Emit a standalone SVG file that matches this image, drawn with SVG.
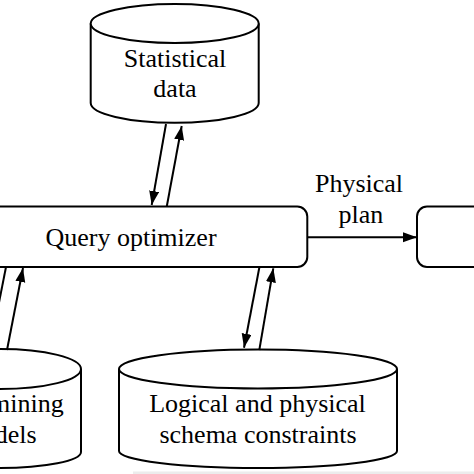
<svg xmlns="http://www.w3.org/2000/svg" width="474" height="474" viewBox="0 0 474 474">
  <style>
    .shape { fill: #ffffff; stroke: #000000; stroke-width: 2; }
    .lbl { font-family: "Liberation Serif", "Times New Roman", serif; font-size: 26px; fill: #000000; text-anchor: middle; }
    .conn { stroke: #000000; stroke-width: 2; fill: none; marker-end: url(#arrow); }
  </style>
  <defs>
    <marker id="arrow" markerUnits="userSpaceOnUse" markerWidth="15" markerHeight="11" refX="14" refY="5" orient="auto">
      <path d="M0,0 L14,5 L0,10 z" fill="#000000"/>
    </marker>
  </defs>
  <rect x="0" y="0" width="474" height="474" fill="#ffffff"/>
  <rect x="133" y="471.5" width="341" height="2.5" fill="#ececec"/>

  <g id="statistical-data">
    <path class="shape" d="M90.7,23.5 L90.7,103 A84,19.7 0 0 0 258.7,103 L258.7,23.5"/>
    <ellipse class="shape" cx="174.7" cy="23.5" rx="84" ry="19.5"/>
    <text class="lbl" x="175" y="67">Statistical</text>
    <text class="lbl" x="175" y="97">data</text>
  </g>

  <g id="query-optimizer">
    <rect class="shape" x="-30" y="206.5" width="337.3" height="60.5" rx="10" ry="10"/>
    <text class="lbl" x="131" y="246">Query optimizer</text>
  </g>

  <g id="executor">
    <rect class="shape" x="417" y="206.5" width="80" height="60.5" rx="10" ry="10"/>
  </g>

  <g id="mining-models">
    <path class="shape" d="M-81,369 L-81,452 A81,16 0 0 0 81,452 L81,369"/>
    <ellipse class="shape" cx="0" cy="369" rx="81" ry="20"/>
    <text class="lbl" x="-1" y="411.7">Data mining</text>
    <text class="lbl" x="-1" y="443">models</text>
  </g>

  <g id="schema-constraints">
    <path class="shape" d="M119,369 L119,451 A139,17 0 0 0 397,451 L397,369"/>
    <ellipse class="shape" cx="258" cy="369" rx="139" ry="19.5"/>
    <text class="lbl" x="257.5" y="411.7">Logical and physical</text>
    <text class="lbl" x="258" y="443">schema constraints</text>
  </g>

  <g id="connectors">
    <line class="conn" x1="166" y1="124" x2="151.7" y2="205"/>
    <line class="conn" x1="166.7" y1="206.7" x2="181.7" y2="126"/>
    <line class="conn" x1="259.3" y1="267.7" x2="244" y2="347.7"/>
    <line class="conn" x1="259.3" y1="350" x2="273.3" y2="268.3"/>
    <line class="conn" x1="7" y1="350" x2="23" y2="268"/>
    <line class="conn" x1="6" y1="267" x2="-10" y2="348"/>
    <line class="conn" x1="307.3" y1="237.3" x2="417" y2="237.3"/>
    <text class="lbl" x="359" y="192">Physical</text>
    <text class="lbl" x="361" y="222.7">plan</text>
  </g>
</svg>
